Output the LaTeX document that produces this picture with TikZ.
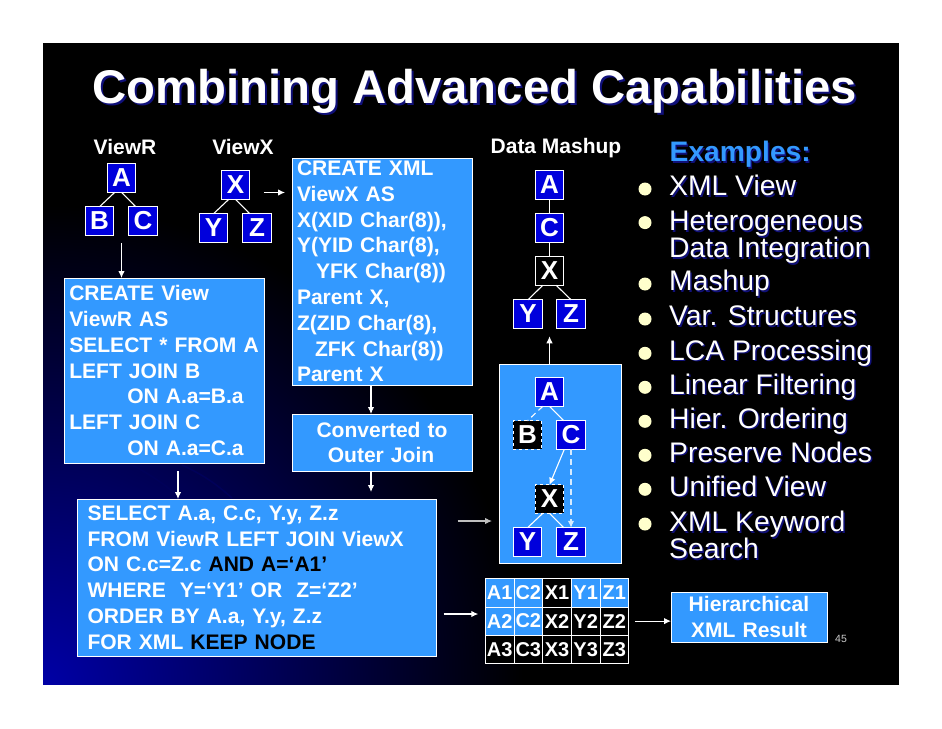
\documentclass[tikz,border=0pt]{standalone}
\usepackage{fontspec}
\setmainfont{Liberation Sans}
\usetikzlibrary{arrows.meta}
\definecolor{boxblue}{HTML}{3399FF}
\definecolor{treeblue}{HTML}{0000DC}
\definecolor{shadownavy}{HTML}{10107A}
\definecolor{bulletcream}{HTML}{FFFFCC}
\newcommand{\dropped}[2][1.5pt]{\leavevmode\rlap{\hspace{#1}\raisebox{-#1}{\textcolor{shadownavy}{#2}}}#2}
\lineskiplimit=-20pt
\tikzset{
  codebox/.style={draw=white,line width=0.8pt,fill=boxblue,text=white,outer sep=0pt,inner ysep=0pt,
    inner xsep=5pt,align=left,font=\fontsize{21.05}{25.8}\selectfont\bfseries},
  treenode/.style={draw=white,line width=0.8pt,fill=treeblue,text=white,minimum size=28.5pt,inner sep=0pt,
    outer sep=0pt,font=\fontsize{26}{26}\selectfont\bfseries},
  blacknode/.style={treenode,fill=black},
  dashnode/.style={treenode,fill=black,dashed},
  cellnode/.style={draw=white,line width=0.8pt,text=white,minimum width=28.7pt,minimum height=28.3pt,inner sep=0pt,
    outer sep=0pt,font=\fontsize{20}{20}\selectfont\bfseries},
  viewlabel/.style={text=white,inner sep=0pt,anchor=base,font=\fontsize{21}{21}\selectfont\bfseries},
  itemtext/.style={text=white,inner sep=0pt,align=left,font=\fontsize{28.3}{27}\selectfont},
  bulletdot/.style={circle,fill=bulletcream,minimum size=13pt,inner sep=0pt},
  arr/.style={-{Latex[length=7pt,width=6.5pt]},white,line width=1.1pt},
  edge/.style={white,line width=1.1pt},
  dashedge/.style={dash pattern=on 6pt off 4pt}
}
\begin{document}
\begin{tikzpicture}[x=1pt,y=-1pt]
\useasboundingbox (0,0) rectangle (942,728);
\fill[black] (43,43) rectangle (899,685);
\begin{scope}
  \clip (43,43) rectangle (899,685);
  \shade[inner color=blue!65!black,outer color=black] (43,685) circle (480);
\end{scope}
\draw[blue!35!black,line width=1.5pt] (78,465) to[bend left=8] (150,492);
\draw[blue!35!black,line width=1.5pt] (132,465) to[bend left=6] (178,496);
\draw[blue!35!black,line width=1.5pt] (182,465) to[bend left=8] (232,498);
\fill[white] (0,685) rectangle (942,690);

\node[text=white,inner sep=0pt,font=\fontsize{47.3}{47.3}\selectfont\bfseries] (title) at (474.5,92)
  {\dropped[2.2pt]{Combining Advanced Capabilities}};

\node[viewlabel] (labelr) at (125,154) {ViewR};
\node[viewlabel] (labelx) at (243,154) {ViewX};
\node[viewlabel] (labelm) at (556,153.5) {Data Mashup};

\node[treenode] (rA) at (121.5,178) {A};
\node[treenode] (rB) at (99.5,221) {B};
\node[treenode] (rC) at (143,221) {C};
\draw[edge] (rA.-115) -- (rB.north);
\draw[edge] (rA.south) -- (rC.117);

\node[treenode] (xX) at (235.5,185) {X};
\node[treenode] (xY) at (213.5,228) {Y};
\node[treenode] (xZ) at (257,228) {Z};
\draw[edge] (xX.-115) -- (xY.north);
\draw[edge] (xX.south) -- (xZ.117);

\node[codebox,text width=190pt,minimum height=185pt] (viewbox) at (164.3,370.5) {CREATE View\\ViewR AS\\\mbox{SELECT * FROM A}\\LEFT JOIN B\\\hspace*{58pt}ON A.a=B.a\\LEFT JOIN C\\\hspace*{58pt}ON A.a=C.a};
\node[codebox,text width=170pt,minimum height=227pt] (xmlbox) at (382,271.5) {CREATE XML\\ViewX AS\\X(XID Char(8)),\\Y(YID Char(8),\\\hspace*{19pt}YFK Char(8))\\Parent X,\\Z(ZID Char(8),\\\hspace*{18pt}ZFK Char(8))\\Parent X};
\node[codebox,text width=170pt,minimum height=57pt,align=center] (convbox) at (382,442.5) {Converted to\hspace*{6pt}\\Outer Join\hspace*{2pt}};
\node[codebox,text width=339pt,inner xsep=10pt,minimum height=157pt] (selectbox) at (257,577.5) {SELECT A.a, C.c, Y.y, Z.z\\FROM ViewR LEFT JOIN ViewX\\ON C.c=Z.c \textcolor{black}{AND A=‘A1’}\\WHERE\ \ Y=‘Y1’ OR\ \ Z=‘Z2’\\ORDER BY A.a, Y.y, Z.z\\FOR XML \textcolor{black}{KEEP NODE}};

\node[treenode] (tA) at (549.5,185) {A};
\node[treenode] (tC) at (549.5,228) {C};
\node[blacknode] (tX) at (549.5,271) {X};
\node[treenode] (tY) at (528,314) {Y};
\node[treenode] (tZ) at (571,314) {Z};
\draw[edge] (tA) -- (tC);
\draw[edge] (tC) -- (tX);
\draw[edge] (tX.-115) -- (tY.north);
\draw[edge] (tX.-65) -- (tZ.north);

\node[draw=white,line width=0.8pt,fill=boxblue,minimum width=122pt,minimum height=199pt,inner sep=0pt,outer sep=0pt] (mashbox) at (560,463.5) {};
\node[treenode] (mA) at (549.5,392) {A};
\node[dashnode] (mB) at (527.5,435) {B};
\node[treenode] (mC) at (571,435) {C};
\node[dashnode] (mX) at (549.5,499) {X};
\node[treenode] (mY) at (527.5,542) {Y};
\node[treenode] (mZ) at (571,542) {Z};
\draw[edge,dashedge] (mA.-115) -- (mB.north);
\draw[edge] (mA.south) -- (mC.117);
\draw[arr] (mC.-115) -- (mX.north);
\draw[arr,dashedge,white!80!boxblue] (mC.south) -- (mZ.north);
\draw[edge] (mX.-115) -- (mY.north);
\draw[edge] (mX.south) -- (mZ.117);

\foreach \txt/\col/\row/\tint in {A1/0/0/boxblue,C2/1/0/boxblue,X1/2/0/black,Y1/3/0/boxblue,Z1/4/0/boxblue,
    A2/0/1/boxblue,C2/1/1/boxblue,X2/2/1/black,Y2/3/1/black,Z2/4/1/black,
    A3/0/2/black,C3/1/2/black,X3/2/2/black,Y3/3/2/black,Z3/4/2/black}
  \node[cellnode,fill=\tint] (cell\col\row) at ({499.6+28.7*\col},{592.8+28.3*\row}) {\txt};

\node[codebox,text width=146pt,minimum height=49.5pt,align=center] (resultbox) at (749,617.3) {Hierarchical\hspace*{6pt}\\XML Result};

\coordinate (rdown) at (121.5,260);
\coordinate (xlevel) at (270,192.5);
\coordinate (viewdrop) at (178,480);
\coordinate (xmldrop) at (371,400);
\coordinate (mashlevel) at (470,521);
\coordinate (tablelevel) at (460,614);
\draw[arr] (rdown |- rB.south) ++(0,8) -- (rdown |- viewbox.north);
\draw[arr,shorten <=14pt,shorten >=7pt] (xX.east |- xlevel) -- (xmlbox.west |- xlevel);
\draw[arr] (xmldrop |- xmlbox.south) -- (xmldrop |- convbox.north);
\draw[arr,shorten >=7pt] (xmldrop |- convbox.south) -- (xmldrop |- selectbox.north);
\draw[arr,shorten <=8pt] (viewdrop |- viewbox.south) -- (viewdrop |- selectbox.north);
\draw[arr,white!75!black,shorten <=21pt,shorten >=7pt] (selectbox.east |- mashlevel) -- (mashbox.west |- mashlevel);
\draw[arr,shorten <=7pt,shorten >=7pt] (selectbox.east |- tablelevel) -- (cell00.west |- tablelevel);
\draw[arr,shorten >=51pt] (mashbox.north -| mA) -- (tX.south);
\draw[arr,shorten <=6pt] (cell41.east) -- (resultbox.west |- cell41.east);

\node[itemtext,anchor=base west,font=\fontsize{28.2}{28.2}\selectfont\bfseries,text=boxblue] (examples) at (669.5,161.7) {\dropped[1.5pt]{Examples:}};
\foreach \n/\ybase/\txt in {a/195.7/XML View,c/290.7/Mashup,d/325.7/Var. Structures,e/360/LCA Processing,f/394/Linear Filtering,g/428/Hier. Ordering,h/462/Preserve Nodes,i/496/Unified View}{
  \node[bulletdot] (dot\n) at (645,{\ybase-6.7}) {};
  \node[itemtext,anchor=base west] (item\n) at (669,\ybase) {\dropped{\txt}};
}
\node[bulletdot] (dotb) at (645,222.6) {};
\node[itemtext,anchor=west] (itemb) at (669,238.3) {\dropped{Heterogeneous}\\\dropped{Data Integration}};
\node[bulletdot] (dotj) at (645,524) {};
\node[itemtext,anchor=west] (itemj) at (669,536) {\dropped{XML Keyword}\\\dropped{Search}};

\node[text=white!80!black,inner sep=0pt,font=\fontsize{10.5}{10.5}\selectfont] (pagenum) at (841,639) {45};
\end{tikzpicture}
\end{document}
